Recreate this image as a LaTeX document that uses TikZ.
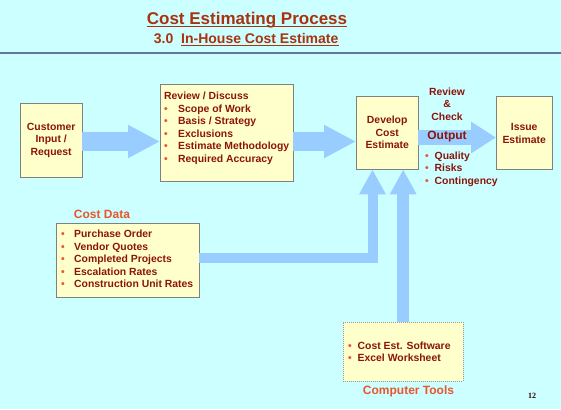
\documentclass[tikz,border=0pt]{standalone}
\usepackage{fontspec}
\setmainfont{Liberation Sans}
\newfontfamily\numfont{Liberation Serif}
\usetikzlibrary{arrows.meta,positioning}
\definecolor{bgcyan}{RGB}{204,255,255}
\definecolor{boxfill}{RGB}{255,255,204}
\definecolor{boxgray}{RGB}{128,128,128}
\definecolor{txtred}{RGB}{140,20,10}
\definecolor{bulred}{RGB}{236,84,44}
\definecolor{titred}{RGB}{170,50,15}
\definecolor{arrblue}{RGB}{153,204,255}
\definecolor{rulebl}{RGB}{100,115,160}
\newcommand{\itm}[2][14pt]{\makebox[#1][l]{\textcolor{bulred}{\textbullet}}#2}

\begin{document}
\begin{tikzpicture}[x=1pt,y=-1pt,
            font=\bfseries\fontsize{10.4}{12.5}\selectfont,
            box/.style={draw=boxgray,fill=boxfill,inner sep=0pt,anchor=north west},
            txt/.style={text=txtred,inner sep=0pt,align=left,anchor=north west},
            ctxt/.style={text=txtred,inner sep=0pt,align=center},
            headred/.style={text=bulred,inner sep=0pt,font=\bfseries\fontsize{12}{14}\selectfont},
            ttl/.style={text=titred,inner sep=0pt,anchor=base},
            wide/.style={draw=arrblue,line width=19pt,-{Triangle[length=32pt 0,width=31pt 0]}},
            mid/.style={draw=arrblue,line width=15pt,-{Triangle[length=25pt 0,width=30pt 0]}},
            slim/.style={draw=arrblue,line width=10pt,line join=miter,-{Triangle[length=25pt 0,width=25pt 0]}}]

            \path[use as bounding box,fill=bgcyan] (0,0) rectangle (561,409);

            \node[ttl,font=\bfseries\fontsize{17}{20}\selectfont] (title) at (247,25) {Cost Estimating Process};
            \draw[titred,line width=1.4pt] ([yshift=-1.8pt]title.base west) -- ([yshift=-1.8pt]title.base east);
            \node[ttl,anchor=base west,font=\bfseries\fontsize{14}{16}\selectfont] (subtitle) at (181,43.7) {In-House Cost Estimate};
            \node[ttl,anchor=base east,font=\bfseries\fontsize{14}{16}\selectfont] (secno) at ([xshift=-7.5pt]subtitle.base west) {3.0};
            \draw[titred,line width=1.2pt] ([yshift=-1.6pt]subtitle.base west) -- ([yshift=-1.6pt]subtitle.base east);
            \draw[rulebl,line width=2pt] (0,53.5) -- (561,53.5);

            \node[box,minimum width=62pt,minimum height=74pt] (cust) at (20,103) {};
            \node[box,minimum width=133pt,minimum height=97pt] (review) at (160,84) {};
            \node[box,minimum width=62pt,minimum height=73pt] (develop) at (356,96) {};
            \node[box,minimum width=56pt,minimum height=73pt] (issue) at (496,96) {};
            \node[box,minimum width=143pt,minimum height=74pt] (costdata) at (56,223) {};
            \node[box,draw=boxgray!80,dash pattern=on 1pt off 1pt,minimum width=120pt,minimum height=59pt] (tools) at (343,322) {};

            \coordinate (mainline) at (0,141.5);
            \coordinate (outline) at (0,137.5);
            \coordinate (datain) at (372.5,258);

            \draw[wide] (cust.east |- mainline) -- (review.west |- mainline);
            \draw[wide] (review.east |- mainline) -- (develop.west |- mainline);
            \draw[mid] (develop.east |- outline) -- (issue.west |- outline);
            \draw[slim] (costdata.east |- datain) -| (develop.south -| datain);
            \draw[slim,line width=12pt] (tools.north) -- (tools.north |- develop.south);

            \node[ctxt] (custtxt) at (cust.center) {Customer\\Input /\\Request};
            \node[txt] (reviewtxt) at (164,92) {Review / Discuss\\\itm{Scope of Work}\\\itm{Basis / Strategy}\\\itm{Exclusions}\\\itm{Estimate Methodology}\\\itm{Required Accuracy}};
            \node[ctxt] (developtxt) at (develop.center) {Develop\\Cost\\Estimate};
            \node[ctxt] (issuetxt) at ([yshift=-1pt]issue.center) {Issue\\Estimate};
            \node[ctxt] (check) at (447,104) {Review\\\&\\Check};
            \node[ctxt,font=\bfseries\fontsize{12}{14}\selectfont] (output) at (447,137) {Output};
            \node[txt] (outitems) at (425,151.5) {\itm[9.5pt]{Quality}\\\itm[9.5pt]{Risks}\\\itm[9.5pt]{Contingency}};

            \node[headred] (costhead) at (102,214.5) {Cost Data};
            \node[txt] (costtxt) at (61,230) {\itm[13pt]{Purchase Order}\\\itm[13pt]{Vendor Quotes}\\\itm[13pt]{Completed Projects}\\\itm[13pt]{Escalation Rates}\\\itm[13pt]{Construction Unit Rates}};

            \node[txt] (toolstxt) at (348,341.5) {\itm[9.5pt]{Cost Est. Software}\\\itm[9.5pt]{Excel Worksheet}};
            \node[headred] (toolshead) at (408.5,391) {Computer Tools};

            \node[text=black!80!red,font=\numfont\bfseries\fontsize{8}{9}\selectfont] (pageno) at (532,396) {12};
        \end{tikzpicture}
\end{document}
